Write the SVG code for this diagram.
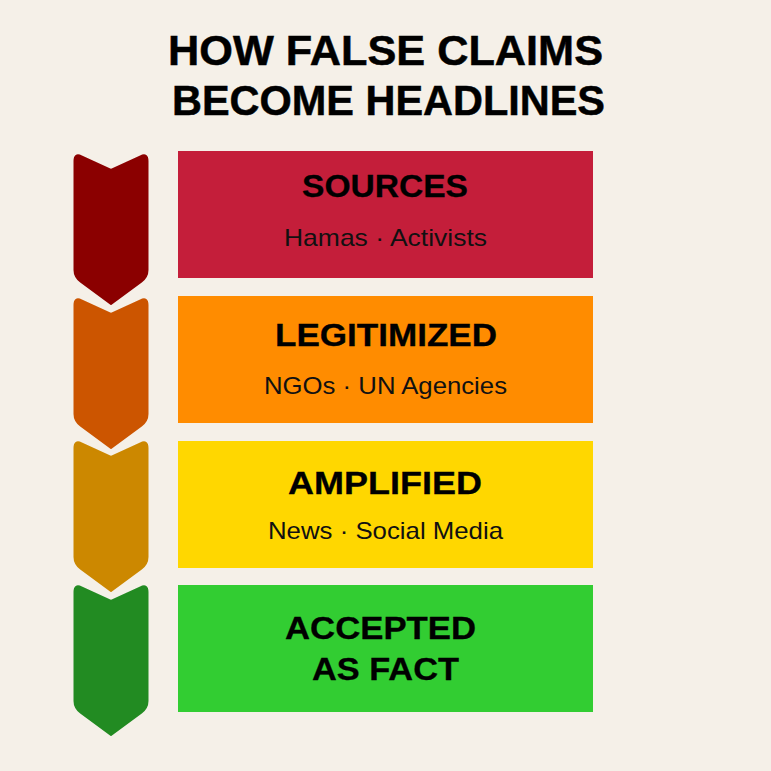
<svg xmlns="http://www.w3.org/2000/svg" width="771" height="771" viewBox="0 0 771 771">
  <defs>
    <style>
      .title { font-family: "Liberation Sans", Arial, sans-serif; font-weight: bold; font-size: 42px; fill: #000; stroke: #000; stroke-width: 0.5px; }
      .head { font-family: "Liberation Sans", Arial, sans-serif; font-weight: bold; font-size: 31px; fill: #000; stroke: #000; stroke-width: 0.3px; }
      .sub { font-family: "Liberation Sans", Arial, sans-serif; font-size: 24px; fill: #111; }
      .chev { stroke-width: 2; stroke-linejoin: round; }
    </style>
    <path id="chevron" d="M74.5,8 Q74.5,0 81.5,3.3 L111,17 L140.5,3.3 Q147.5,0 147.5,8 L147.5,117 Q147.5,124 141.2,128.7 L111,151 L80.8,128.7 Q74.5,124 74.5,117 Z"/>
  </defs>
  <rect x="0" y="0" width="771" height="771" fill="#F5F0E8"/>

  <g id="title">
    <text class="title" x="168" y="65" textLength="435" lengthAdjust="spacingAndGlyphs">HOW FALSE CLAIMS</text>
    <text class="title" x="172" y="115" textLength="433" lengthAdjust="spacingAndGlyphs">BECOME HEADLINES</text>
  </g>

  <g id="connectors">
    <use href="#chevron" class="chev" transform="translate(0,153)" fill="#8B0000" stroke="#8B0000"/>
    <use href="#chevron" class="chev" transform="translate(0,297)" fill="#CC5500" stroke="#CC5500"/>
    <use href="#chevron" class="chev" transform="translate(0,440)" fill="#CC8800" stroke="#CC8800"/>
    <use href="#chevron" class="chev" transform="translate(0,584)" fill="#228B22" stroke="#228B22"/>
  </g>

  <g id="sources">
    <rect x="178" y="151" width="415" height="127" fill="#C41E3A"/>
    <text class="head" x="302" y="197" textLength="166" lengthAdjust="spacingAndGlyphs">SOURCES</text>
    <text class="sub" x="284" y="246" textLength="203" lengthAdjust="spacingAndGlyphs">Hamas · Activists</text>
  </g>

  <g id="legitimized">
    <rect x="178" y="296" width="415" height="127" fill="#FF8C00"/>
    <text class="head" x="275" y="346" textLength="222" lengthAdjust="spacingAndGlyphs">LEGITIMIZED</text>
    <text class="sub" x="264" y="394" textLength="243" lengthAdjust="spacingAndGlyphs">NGOs · UN Agencies</text>
  </g>

  <g id="amplified">
    <rect x="178" y="441" width="415" height="127" fill="#FFD700"/>
    <text class="head" x="288" y="494" textLength="194" lengthAdjust="spacingAndGlyphs">AMPLIFIED</text>
    <text class="sub" x="268" y="539" textLength="235" lengthAdjust="spacingAndGlyphs">News · Social Media</text>
  </g>

  <g id="accepted">
    <rect x="178" y="585" width="415" height="127" fill="#32CD32"/>
    <text class="head" x="285" y="639" textLength="191" lengthAdjust="spacingAndGlyphs">ACCEPTED</text>
    <text class="head" x="312" y="680" textLength="147" lengthAdjust="spacingAndGlyphs">AS FACT</text>
  </g>
</svg>
